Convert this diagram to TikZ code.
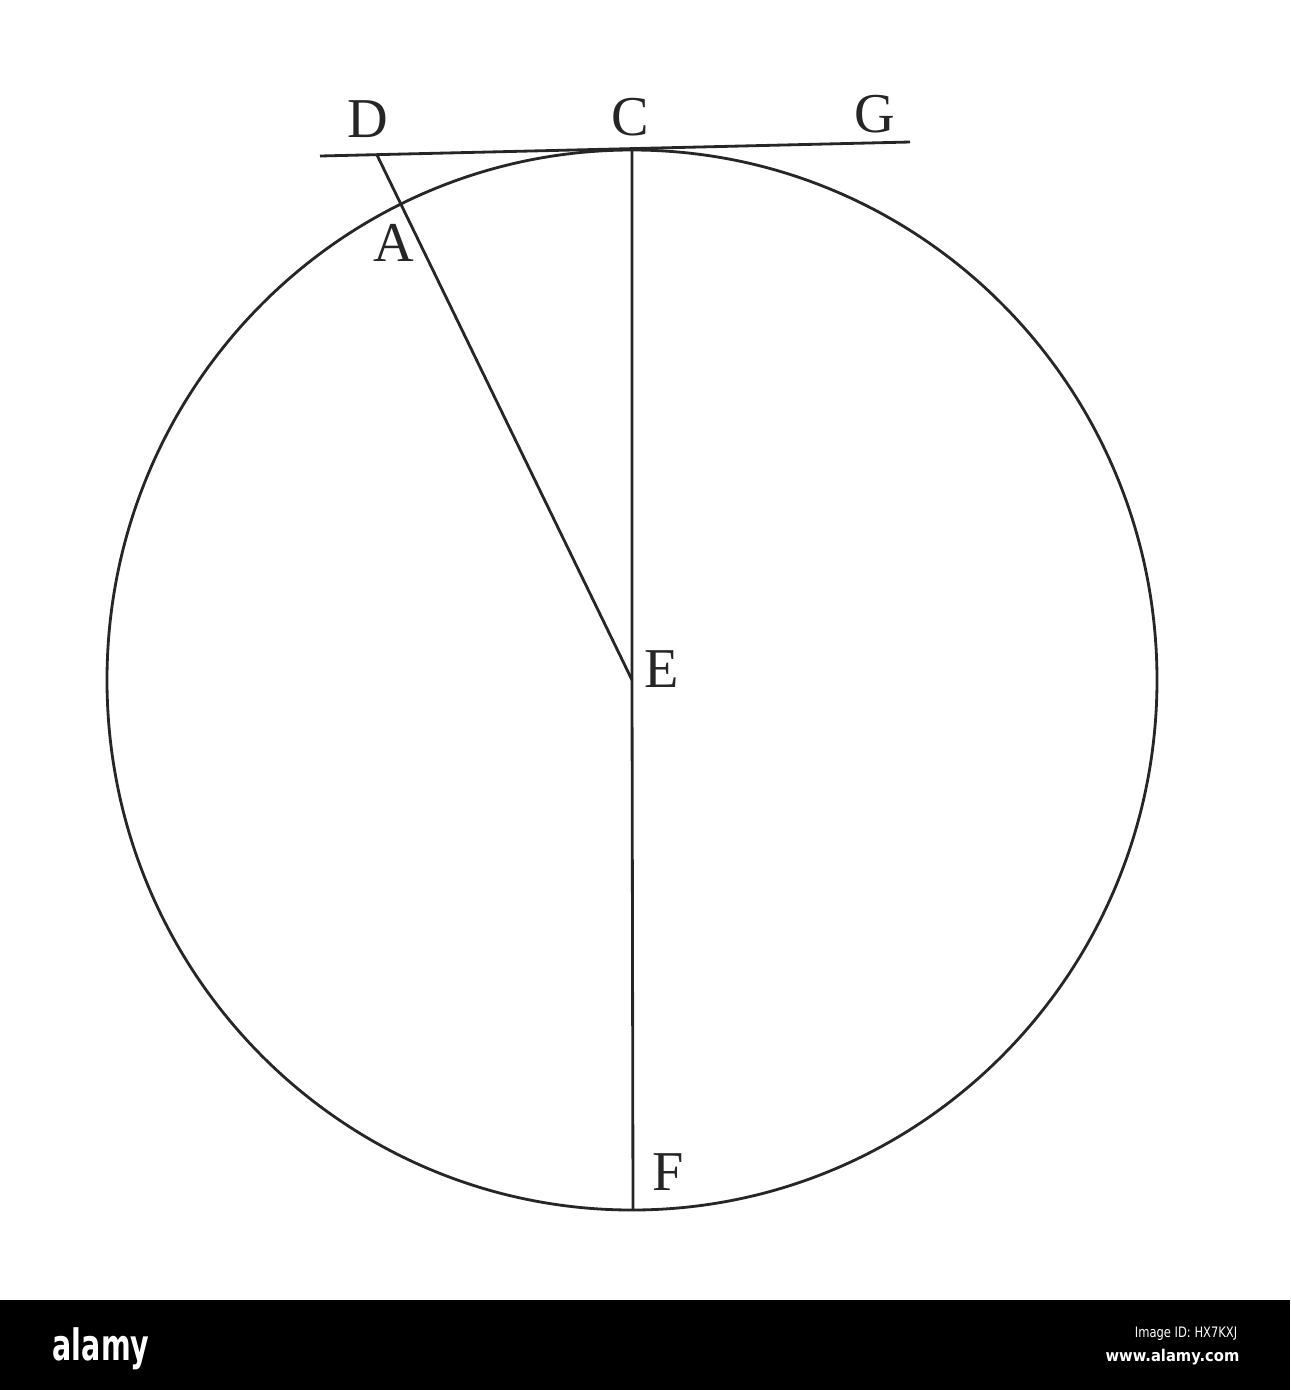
\documentclass[tikz,border=0pt]{standalone}
\usepackage{fontspec}
\setmainfont{Liberation Serif}
\newfontfamily\bandfont{DejaVu Sans}
\usetikzlibrary{positioning}
\tikzset{line/.style = {line width=0.8pt, black!85}}
\tikzset{letter/.style = {font=\fontsize{16}{16}\selectfont, inner sep=0pt, text=black!85}}
\tikzset{band/.style = {inner sep=0pt, text=white}}

\begin{document}
\begin{tikzpicture}[x=0.01cm, y=-0.01cm]
\useasboundingbox (0,0) rectangle (1290,1390);

\coordinate (T) at (320,156);
\coordinate (G) at (910,142);
\coordinate (D) at (377,155);
\coordinate (C) at (632,151);
\coordinate (E) at (632,680);
\coordinate (F) at (633,1210);

\draw[line] (E) ellipse [x radius=525, y radius=530];
\draw[line] (T) -- (G);
\draw[line] (D) -- (E);
\draw[line] (C) -- (E) -- (F);

\node[letter] (d) at (368,119) {D};
\node[letter] (c) at (630,117) {C};
\node[letter] (g) at (875,114) {G};
\node[letter] (a) at (394,243) {A};
\node[letter] (e) at (662,669) {E};
\node[letter] (f) at (668,1172) {F};

% stock photo band
\fill[black] (0,1300) rectangle (1290,1390);
\node[band, anchor=base west] (logo) at (52,1360)
  {\bandfont\bfseries\fontsize{12.3}{12.3}\selectfont\scalebox{0.66}[1]{alamy}};
\node[band, anchor=base east] (imgid) at (1238,1337)
  {\bandfont\fontsize{4.1}{4.1}\selectfont\scalebox{0.8}[1]{Image ID: HX7KXJ}};
\node[band, anchor=base east] (site) at (1240,1361)
  {\bandfont\bfseries\fontsize{4.6}{4.6}\selectfont\scalebox{0.91}[1]{www.alamy.com}};

\end{tikzpicture}
\end{document}
